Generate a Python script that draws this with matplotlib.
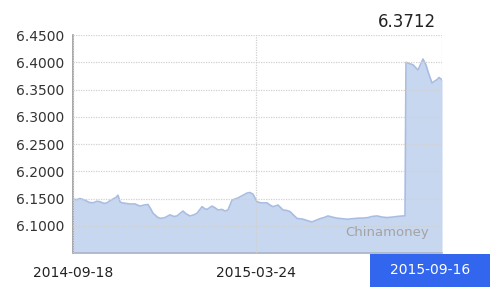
import matplotlib
matplotlib.use('Agg')
import numpy as np
from matplotlib import pyplot as plt
from matplotlib.patches import Rectangle

# position along the axis (trading-day index) and USD/CNY rate
t = [0, 4, 7, 12, 16, 20, 24, 27, 31, 34, 37, 40, 43, 45, 47, 49, 53, 57, 62, 67,
     71, 75, 78, 80, 85, 88, 92, 97, 101, 104, 110, 113, 117, 121, 124, 127, 129, 132, 134, 139,
     142, 145, 149, 152, 155, 159, 162, 165, 169, 174, 177, 180, 184, 188, 194, 197, 200, 205, 210, 214,
     217, 224, 230, 235, 239, 243, 247, 251, 255, 259, 264, 269, 274, 280, 286, 290, 295, 299, 304, 309,
     314, 320, 324, 330, 332, 333, 336, 340, 345, 350, 353, 355, 359, 362, 364, 366, 369]
rate = [6.1487, 6.1480, 6.1500, 6.1470, 6.1430, 6.1420, 6.1450, 6.1440, 6.1410, 6.1420,
        6.1460, 6.1490, 6.1520, 6.1560, 6.1440, 6.1420, 6.1410, 6.1400, 6.1400, 6.1360,
        6.1380, 6.1390, 6.1300, 6.1230, 6.1150, 6.1135, 6.1150, 6.1200, 6.1170, 6.1180,
        6.1270, 6.1220, 6.1180, 6.1200, 6.1230, 6.1300, 6.1350, 6.1310, 6.1300, 6.1360,
        6.1330, 6.1290, 6.1300, 6.1270, 6.1290, 6.1470, 6.1490, 6.1510, 6.1550, 6.1600,
        6.1610, 6.1580, 6.1440, 6.1420, 6.1420, 6.1380, 6.1350, 6.1380, 6.1290, 6.1280,
        6.1260, 6.1135, 6.1120, 6.1090, 6.1070, 6.1100, 6.1130, 6.1150, 6.1180, 6.1160,
        6.1140, 6.1130, 6.1120, 6.1130, 6.1140, 6.1140, 6.1150, 6.1170, 6.1180, 6.1160,
        6.1150, 6.1160, 6.1170, 6.1180, 6.1180, 6.4000, 6.3980, 6.3954, 6.3860, 6.4060,
        6.3950, 6.3830, 6.3620, 6.3660, 6.3680, 6.3720, 6.3680]

xtick_pos = [0, 183, 369]
xtick_labels = ['2014-09-18', '2015-03-24', '2015-09-16']
yticks = [6.10, 6.15, 6.20, 6.25, 6.30, 6.35, 6.40, 6.45]
last_value = '6.3712'

plt.rcParams['font.family'] = 'DejaVu Sans'

fig = plt.figure(figsize=(5, 3.01), dpi=100)
ax = fig.add_axes([0.146, 0.1595, 0.738, 0.724])

ax.fill_between(t, rate, 6.05, color='#c8d7f0', lw=0)
ax.plot(t, rate, color='#a9bde2', lw=1.2)

ax.set_xlim(0, 369)
ax.set_ylim(6.05, 6.45)
ax.set_yticks(yticks)
ax.set_yticklabels(['%.4f' % v for v in yticks], fontsize=10, color='#333333')
ax.set_xticks(xtick_pos)
ax.set_xticklabels(['', '', ''])
ax.tick_params(length=0, pad=6)

ax.grid(True, color='#d0d0d0', ls=(0, (1, 1)), lw=0.9)
ax.set_axisbelow(False)
for s in ['top', 'right']:
    ax.spines[s].set_visible(False)
ax.spines['left'].set_color('#9a9a9a')
ax.spines['bottom'].set_color('#aab4c8')
ax.spines['left'].set_linewidth(1.2)
ax.spines['bottom'].set_linewidth(1.2)

# date labels under the axis
ax.text(xtick_pos[0], -0.06, xtick_labels[0], transform=ax.get_xaxis_transform(),
        ha='center', va='top', fontsize=10, color='#222222')
ax.text(xtick_pos[1], -0.06, xtick_labels[1], transform=ax.get_xaxis_transform(),
        ha='center', va='top', fontsize=10, color='#222222')

# highlighted last date
fig.patches.append(Rectangle((370 / 500, 1 - 287 / 301), 120 / 500, 33 / 301,
                             transform=fig.transFigure, fc='#3266ee', ec='none'))
fig.text(430 / 500, 1 - 270.5 / 301, xtick_labels[2], ha='center', va='center',
         fontsize=10, color='white')

ax.text(0.905, 1.02, last_value, transform=ax.transAxes, ha='center', va='bottom',
        fontsize=12, color='#222222')
ax.text(0.85, 0.092, 'Chinamoney', transform=ax.transAxes, ha='center', va='center',
        fontsize=9.5, color='#a3a3a3')

plt.savefig('out.png', dpi=100)
